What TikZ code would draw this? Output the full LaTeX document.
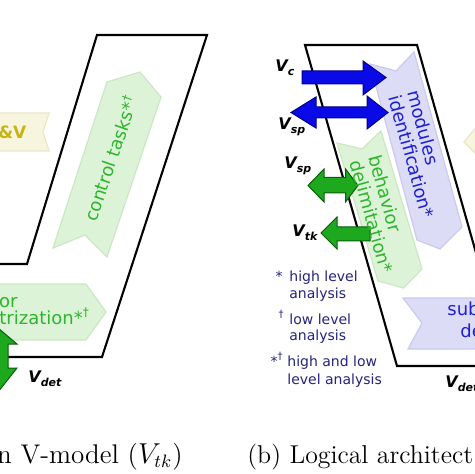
\documentclass[tikz,border=0pt]{standalone}
\usepackage{fontspec}
\newfontfamily\dv{DejaVu Sans}[ItalicFont={DejaVu Sans Oblique},BoldFont={DejaVu Sans Bold},BoldItalicFont={DejaVu Sans Bold Oblique}]
\definecolor{lgfill}{HTML}{DDF3D8}
\definecolor{lgedge}{HTML}{CBE7C4}
\definecolor{lvfill}{HTML}{DCDCF7}
\definecolor{lvedge}{HTML}{CACAEE}
\definecolor{crfill}{HTML}{F7F5DE}
\definecolor{credge}{HTML}{EAE6C6}
\definecolor{gtext}{HTML}{2DB52D}
\definecolor{btext}{HTML}{1E1ED2}
\definecolor{ntext}{HTML}{24247E}
\definecolor{ytext}{HTML}{C8B414}
\definecolor{arrblue}{HTML}{0A0AE6}
\definecolor{arrblueedge}{HTML}{00008C}
\definecolor{arrgreen}{HTML}{1EA81E}
\definecolor{arrgreenedge}{HTML}{0B5E0B}
\newcommand\vlab[1]{{\dv\bfseries\itshape\fontsize{8}{8}\selectfont V\raisebox{-2pt}{\fontsize{5.5}{5.5}\selectfont #1}}}
\newcommand\mydag{\textsuperscript{†}}
\begin{document}
\begin{tikzpicture}[x=0.5pt,y=-0.5pt,
  lgshape/.style={fill=lgfill,draw=lgedge,line width=0.6pt},
  lvshape/.style={fill=lvfill,draw=lvedge,line width=0.6pt},
  crshape/.style={fill=crfill,draw=credge,line width=0.6pt},
  vline/.style={draw=black,line width=1.05pt,line join=miter},
  bluearrow/.style={fill=arrblue,draw=arrblueedge,line width=0.5pt,line join=miter},
  greenarrow/.style={fill=arrgreen,draw=arrgreenedge,line width=0.5pt,line join=miter},
  gtxt/.style={inner sep=0pt,text=gtext,font=\dv\fontsize{9}{9.6}\selectfont},
  btxt/.style={inner sep=0pt,text=btext,font=\dv\fontsize{9}{9.6}\selectfont},
  ntxt/.style={inner sep=0pt,text=ntext,font=\dv\fontsize{7}{8.4}\selectfont,anchor=base west},
  nsym/.style={inner sep=0pt,text=ntext,font=\dv\fontsize{7}{8.4}\selectfont,anchor=base east},
  vtxt/.style={inner sep=0pt,anchor=base west,text=black},
  captxt/.style={inner sep=0pt}]
\useasboundingbox (0,0) rectangle (474,474);
\fill[white] (0,0) rectangle (474,474);

% ---------- left panel ----------
\path[crshape] (-10,113) -- (49,113) -- (43,132) -- (49,151) -- (-10,151) -- cycle;
\path[lgshape] (107,82) -- (140,72) -- (161,97) -- (107,257) -- (85,235) -- (53,248) -- cycle;
\path[lgshape] (-10,284) -- (86,284) -- (106,312) -- (86,340) -- (-10,340) -- cycle;
\path[vline] (-10,264) -- (27,264) -- (97,35) -- (207,35) -- (102,357) -- (-10,357);
\path[greenarrow] (-2,328) -- (17,344) -- (8,344) -- (8,368) -- (17,368) -- (-2,392) -- (-21,368) -- (-12,368) -- (-12,344) -- (-21,344) -- cycle;

\node[inner sep=0pt,anchor=west,text=ytext,font=\dv\bfseries\fontsize{8.5}{8.5}\selectfont] (vv) at (-2,132) {\&V};
\node[gtxt,rotate=71] (ctl) at (110,158) {control tasks*\mydag};
\node[gtxt,anchor=base east] (orl) at (18,307) {or};
\node[gtxt,anchor=base west] (trz) at (-1,324) {trization*\mydag};
\node[vtxt] (vdetl) at (28,382) {\vlab{det}};
\node[captxt,anchor=base east,font=\fontsize{13.5}{16}\selectfont] (capa) at (183,463) {n V-model ($V_{tk}$)};

% ---------- right panel ----------
\path[crshape] (478,125) -- (464,142) -- (478,156) -- cycle;
\path[lvshape] (370,64) -- (396,71) -- (414,52) -- (462,227) -- (440,249) -- (417,240) -- cycle;
\path[lgshape] (337,143) -- (362,149) -- (381,131) -- (422,269) -- (403.5,288) -- (378,281) -- cycle;
\path[lvshape] (403,298) -- (480,298) -- (480,349) -- (408,349) -- (422,323) -- cycle;
\path[vline] (480,267) -- (417,45) -- (305,45) -- (397,366) -- (480,366);

\path[bluearrow] (302,71) -- (363,71) -- (363,61) -- (386,77.5) -- (363,95) -- (363,84) -- (302,84) -- cycle;
\path[bluearrow] (291,112.5) -- (316,97) -- (316,107) -- (367,107) -- (367,96) -- (388,112.5) -- (367,129) -- (367,118) -- (316,118) -- (316,128) -- cycle;
\path[greenarrow] (308,185.5) -- (324,169) -- (324,177.5) -- (345.5,177.5) -- (345.5,169) -- (358,185.5) -- (345.5,202) -- (345.5,193) -- (324,193) -- (324,202) -- cycle;
\path[greenarrow] (321,233) -- (337,217) -- (337,227) -- (370,227) -- (370,241) -- (337,241) -- (337,249) -- cycle;

\node[btxt,rotate=-74.7,align=left] (mod) at (421,154) {modules\\identification*};
\node[gtxt,rotate=-74.7,align=left] (beh) at (381,214) {behavior\\delimitation*};
\node[btxt,anchor=base west] (sub) at (447,315) {sub};
\node[btxt,anchor=base west] (de) at (460,337) {de};

\node[vtxt] (vc) at (275,72) {\vlab{c}};
\node[vtxt] (vsp1) at (278,130) {\vlab{sp}};
\node[vtxt] (vsp2) at (284,169) {\vlab{sp}};
\node[vtxt] (vtk) at (292,237) {\vlab{tk}};
\node[vtxt] (vdetr) at (445,387) {\vlab{det}};

\node[nsym] (s1) at (283,282) {*};
\node[ntxt] (l1a) at (289,282) {high level};
\node[ntxt] (l1b) at (289,299) {analysis};
\node[nsym] (s2) at (285,324) {\mydag};
\node[ntxt] (l2a) at (289,324) {low level};
\node[ntxt] (l2b) at (289,340) {analysis};
\node[nsym] (s3) at (284,366) {*\mydag};
\node[ntxt] (l3a) at (287,366) {high and low};
\node[ntxt] (l3b) at (287,384) {level analysis};

\node[captxt,anchor=base west,font=\fontsize{12.9}{15.5}\selectfont] (capb) at (247,463) {(b) Logical architect};
\end{tikzpicture}
\end{document}
